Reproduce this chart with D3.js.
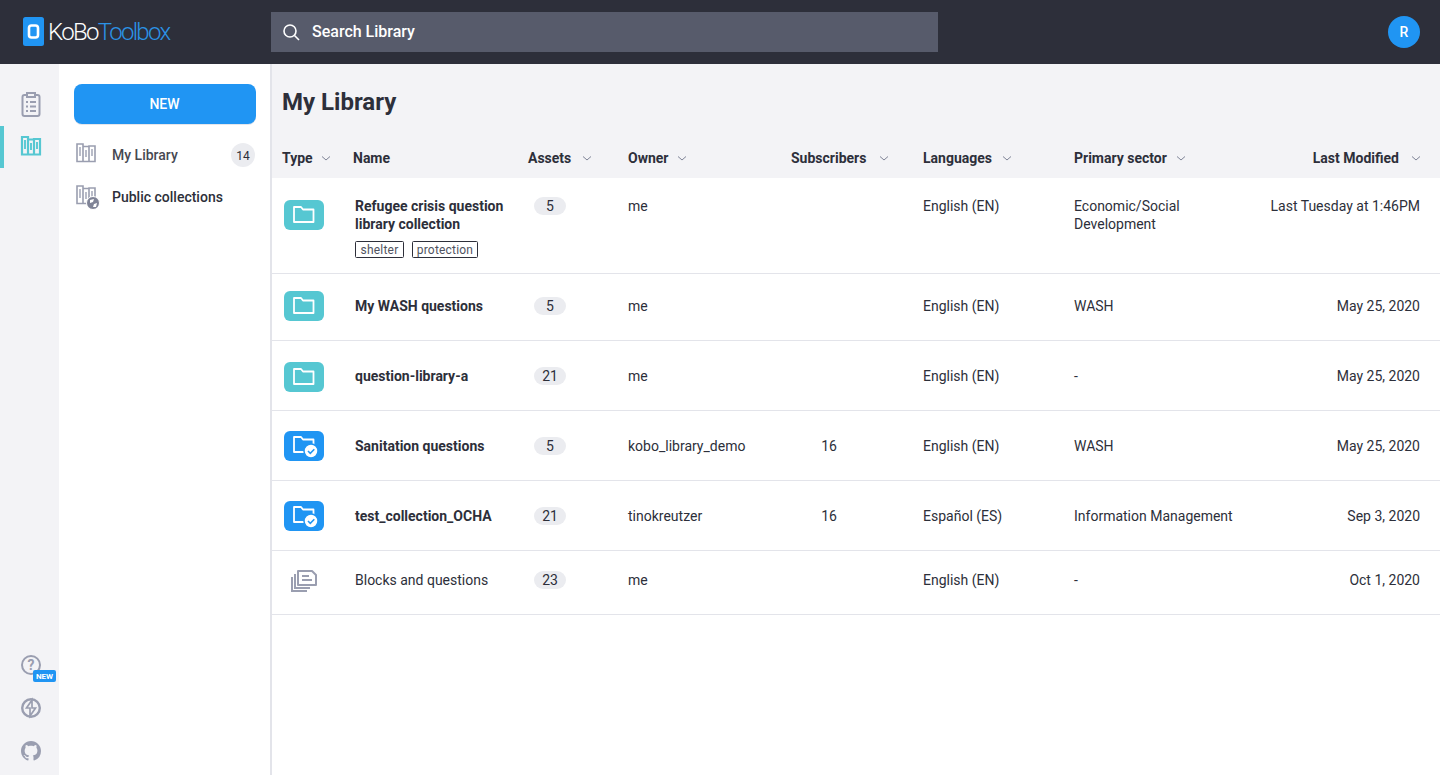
<!DOCTYPE html>
<html>
<head>
<meta charset="utf-8">
<title>My Library</title>
<script src="https://cdn.jsdelivr.net/npm/d3@7"></script>
<style>
  html, body { margin: 0; padding: 0; background: #fff; overflow: hidden; }
  svg { display: block; }
  text { font-family: Roboto, sans-serif; }
</style>
</head>
<body>
<div id="chart"></div>
<script>
// table content
const columns = ['Type', 'Name', 'Assets', 'Owner', 'Subscribers', 'Languages', 'Primary sector', 'Last Modified'];
const names = ['Refugee crisis question|library collection', 'My WASH questions', 'question-library-a', 'Sanitation questions', 'test_collection_OCHA', 'Blocks and questions'];
const types = ['collection', 'collection', 'collection', 'subscribed', 'subscribed', 'blocks'];
const assets = [5, 5, 21, 5, 21, 23];
const owners = ['me', 'me', 'me', 'kobo_library_demo', 'tinokreutzer', 'me'];
const subscribers = ['', '', '', 16, 16, ''];
const languages = ['English (EN)', 'English (EN)', 'English (EN)', 'English (EN)', 'Español (ES)', 'English (EN)'];
const sectors = ['Economic/Social|Development', 'WASH', '-', 'WASH', 'Information Management', '-'];
const modified = ['Last Tuesday at 1:46PM', 'May 25, 2020', 'May 25, 2020', 'May 25, 2020', 'Sep 3, 2020', 'Oct 1, 2020'];
const tags = ['shelter', 'protection'];
const navItems = ['My Library', 'Public collections'];
const libraryCount = 14;

const width = 1440;
const height = 775;
const dark = '#2d2f3a';
const blue = '#2095f3';
const teal = '#56c7d2';
const grey = '#9a9eb0';
const line = '#e3e4ea';

// layout scales
const rowIndex = d3.range(names.length);
const headerX = d3.scaleOrdinal().domain(columns).range([282, 353, 528, 628, 791, 923, 1074, 1399]);
const caretX = d3.scaleOrdinal().domain(columns).range([326, null, 587, 682, 884, 1007, 1181, 1416]);
const rowLine = d3.scaleOrdinal().domain(rowIndex).range([273.5, 340.5, 410.5, 480.5, 550.5, 614.5]);
const textY = d3.scaleOrdinal().domain(rowIndex).range([206, 306, 376, 446, 516, 580]);
const iconY = d3.scaleOrdinal().domain(rowIndex).range([215, 306, 377, 446, 516, 580]);

const svg = d3.select('#chart').append('svg').attr('width', width).attr('height', height);

// backgrounds
svg.append('rect').attr('width', width).attr('height', height).attr('fill', '#fff');
svg.append('rect').attr('x', 271).attr('y', 64).attr('width', width - 271).attr('height', 114).attr('fill', '#f3f3f6');
svg.append('rect').attr('x', 0).attr('y', 64).attr('width', 59).attr('height', height - 64).attr('fill', '#f3f3f6');
svg.append('rect').attr('x', 270).attr('y', 64).attr('width', 2).attr('height', height - 64).attr('fill', line);

// top bar
svg.append('rect').attr('width', width).attr('height', 64).attr('fill', dark);
svg.append('rect').attr('x', 271).attr('y', 12).attr('width', 667).attr('height', 40).attr('fill', '#575b6b');
const mag = svg.append('g').attr('transform', 'translate(291,32)').attr('fill', 'none').attr('stroke', '#fff').attr('stroke-width', 1.6);
mag.append('circle').attr('cx', -1).attr('cy', -1).attr('r', 6);
mag.append('path').attr('d', 'M3.5,3.5L8,8');
svg.append('text').attr('x', 312).attr('y', 37).attr('fill', '#fff').attr('font-size', 16).attr('font-weight', 500).text('Search Library');

// logo
svg.append('rect').attr('x', 23).attr('y', 17).attr('width', 21).attr('height', 29).attr('rx', 2.5).attr('fill', blue);
svg.append('rect').attr('x', 29).attr('y', 25.5).attr('width', 9).attr('height', 12).attr('rx', 2.5).attr('fill', 'none').attr('stroke', '#fff').attr('stroke-width', 2.6);
const logo = svg.append('text').attr('x', 48).attr('y', 40).attr('font-size', 24).attr('letter-spacing', -1.7).attr('font-weight', 300);
logo.append('tspan').attr('fill', '#fff').text('KoBo');
logo.append('tspan').attr('fill', '#2b93e6').text('Toolbox');

// avatar
svg.append('circle').attr('cx', 1404).attr('cy', 32).attr('r', 16).attr('fill', blue);
svg.append('text').attr('x', 1404).attr('y', 37).attr('text-anchor', 'middle').attr('fill', '#fff').attr('font-size', 14).attr('font-weight', 500).text('R');

// library glyph, shared by the rail and the side menu
function libraryIcon(g, color, w) {
  g.attr('fill', 'none').attr('stroke', color).attr('stroke-width', w);
  g.append('path').attr('d', 'M-9,-9H-3V8.5H-9ZM-3,-6.5H3V8.5H-3ZM3,-7H9V8.5H3Z');
  g.append('path').attr('d', 'M-6,-6V3M0,-3V4M6,-4V3').attr('stroke-width', w * 0.85);
}

// left rail
const clip = svg.append('g').attr('transform', 'translate(31,104)').attr('fill', 'none').attr('stroke', grey).attr('stroke-width', 2);
clip.append('rect').attr('x', -8.5).attr('y', -9).attr('width', 17).attr('height', 21).attr('rx', 2);
clip.append('rect').attr('x', -4).attr('y', -11).attr('width', 8).attr('height', 4).attr('fill', '#f3f3f6');
clip.append('path').attr('d', 'M-5,-2H-3M-1,-2H5M-5,2.5H-3M-1,2.5H5M-5,7H-3M-1,7H5').attr('stroke-width', 1.8);
svg.append('rect').attr('x', 0).attr('y', 126).attr('width', 4).attr('height', 42).attr('fill', teal);
libraryIcon(svg.append('g').attr('transform', 'translate(31,146)'), teal, 2.2);

const help = svg.append('g').attr('transform', 'translate(31,665)');
help.append('circle').attr('r', 9).attr('fill', 'none').attr('stroke', grey).attr('stroke-width', 2);
help.append('text').attr('y', 5).attr('text-anchor', 'middle').attr('font-size', 14).attr('font-weight', 700).attr('fill', grey).text('?');
svg.append('rect').attr('x', 33).attr('y', 670).attr('width', 23).attr('height', 12).attr('rx', 2).attr('fill', blue);
svg.append('text').attr('x', 44.5).attr('y', 679).attr('text-anchor', 'middle').attr('fill', '#fff').attr('font-size', 8).attr('font-weight', 700).text('NEW');

const support = svg.append('g').attr('transform', 'translate(31,708)').attr('fill', 'none').attr('stroke', grey);
support.append('circle').attr('r', 8.8).attr('stroke-width', 2.4);
support.append('path').attr('d', 'M1,-8L-4.5,0H-1V8L4.5,0H1Z').attr('stroke-width', 1.7);

svg.append('path')
  .attr('transform', 'translate(21,741) scale(1.25)')
  .attr('fill', grey)
  .attr('d', 'M8 0C3.58 0 0 3.58 0 8c0 3.54 2.29 6.53 5.47 7.59.4.07.55-.17.55-.38 0-.19-.01-.82-.01-1.49-2.01.37-2.53-.49-2.69-.94-.09-.23-.48-.94-.82-1.13-.28-.15-.68-.52-.01-.53.63-.01 1.08.58 1.23.82.72 1.21 1.87.87 2.33.66.07-.52.28-.87.51-1.07-1.78-.2-3.64-.89-3.64-3.95 0-.87.31-1.59.82-2.15-.08-.2-.36-1.02.08-2.12 0 0 .67-.21 2.2.82.64-.18 1.32-.27 2-.27.68 0 1.36.09 2 .27 1.53-1.04 2.2-.82 2.2-.82.44 1.1.16 1.92.08 2.12.51.56.82 1.27.82 2.15 0 3.07-1.87 3.75-3.65 3.95.29.25.54.73.54 1.48 0 1.07-.01 1.93-.01 2.2 0 .21.15.46.55.38A8.013 8.013 0 0016 8c0-4.42-3.58-8-8-8z');

// side menu
svg.append('rect').attr('x', 74).attr('y', 85).attr('width', 182).attr('height', 40).attr('rx', 8).attr('fill', '#e4e6ec');
svg.append('rect').attr('x', 74).attr('y', 84).attr('width', 182).attr('height', 40).attr('rx', 8).attr('fill', blue);
svg.append('text').attr('x', 164.5).attr('y', 109).attr('text-anchor', 'middle').attr('fill', '#fff').attr('font-size', 14).attr('font-weight', 500).text('NEW');

const navY = d3.scalePoint().domain(navItems).range([155, 197]);
svg.append('g').selectAll('text').data(navItems).join('text')
  .attr('x', 112).attr('y', d => navY(d) + 5)
  .attr('fill', dark).attr('font-size', 14).attr('font-weight', 500)
  .attr('opacity', (d, i) => (i === 0 ? 0.88 : 1))
  .text(d => d);
navItems.forEach(d => {
  libraryIcon(svg.append('g').attr('transform', `translate(86,${navY(d) - 2})`), grey, 1.6);
});
const globe = svg.append('g').attr('transform', 'translate(93,203)');
globe.append('circle').attr('r', 6.5).attr('fill', '#7f8396').attr('stroke', '#fff').attr('stroke-width', 1);
globe.append('path').attr('d', 'M-3,-3L1,-4L0,-1L-3,0ZM1,1L4,0L3,4L0,4Z').attr('fill', '#fff');
svg.append('circle').attr('cx', 243).attr('cy', 155).attr('r', 12).attr('fill', '#ebecf0');
svg.append('text').attr('x', 243).attr('y', 160).attr('text-anchor', 'middle').attr('fill', dark).attr('font-size', 12).text(libraryCount);

// title and table head
svg.append('text').attr('x', 282).attr('y', 110).attr('fill', dark).attr('font-size', 24).attr('font-weight', 700).text('My Library');
const head = svg.append('g').selectAll('g').data(columns).join('g');
head.append('text')
  .attr('x', d => headerX(d)).attr('y', 163)
  .attr('fill', dark).attr('font-size', 14).attr('font-weight', 700)
  .text(d => d);
head.filter(d => caretX(d) !== null).append('path')
  .attr('d', d => `M${caretX(d) - 4},156.5l4,3.5l4,-3.5`)
  .attr('fill', 'none').attr('stroke', '#7f8396').attr('stroke-width', 1);
// last header is right aligned against its caret
head.filter(d => d === 'Last Modified').select('text').attr('x', 1399).attr('text-anchor', 'end');

// rows
const rows = svg.append('g').selectAll('g').data(names).join('g');

rows.append('line')
  .attr('x1', 272).attr('x2', width)
  .attr('y1', (d, i) => rowLine(i)).attr('y2', (d, i) => rowLine(i))
  .attr('stroke', line).attr('stroke-width', 1);

function multiline(sel, get, attrs) {
  sel.each(function (d, i) {
    const value = String(get(i));
    value.split('|').forEach((part, k) => {
      const t = d3.select(this).append('text')
        .attr('y', textY(i) + 5 + k * 18)
        .attr('fill', dark).attr('font-size', 14).text(part);
      attrs(t, i);
    });
  });
}

multiline(rows, i => names[i], (t, i) => t.attr('x', 355).attr('font-weight', types[i] === 'blocks' ? 400 : 700));
multiline(rows, i => owners[i], t => t.attr('x', 628));
multiline(rows, i => subscribers[i], t => t.attr('x', 829).attr('text-anchor', 'middle'));
multiline(rows, i => languages[i], t => t.attr('x', 923));
multiline(rows, i => sectors[i], t => t.attr('x', 1074));
multiline(rows, i => modified[i], t => t.attr('x', 1420).attr('text-anchor', 'end'));

// asset count pills
rows.append('rect')
  .attr('x', 534).attr('y', (d, i) => textY(i) - 9)
  .attr('width', 32).attr('height', 18).attr('rx', 9).attr('fill', '#ebecf0');
rows.append('text')
  .attr('x', 550).attr('y', (d, i) => textY(i) + 5)
  .attr('text-anchor', 'middle').attr('fill', dark).attr('font-size', 14)
  .text((d, i) => assets[i]);

// type icons
rows.each(function (d, i) {
  const g = d3.select(this).append('g').attr('transform', `translate(304,${iconY(i)})`);
  if (types[i] === 'blocks') {
    g.attr('fill', 'none').attr('stroke', grey).attr('stroke-width', 2);
    g.append('path').attr('d', 'M-12,-3V11H3M-9,-6V8H6');
    g.append('path').attr('d', 'M-6,-9H8L12,-5V5H-6Z').attr('fill', '#fff').attr('stroke-linejoin', 'round');
    g.append('path').attr('d', 'M-2,-4H5M-2,0H8');
    return;
  }
  g.append('rect').attr('x', -20).attr('y', -15).attr('width', 40).attr('height', 30).attr('rx', 6)
    .attr('fill', types[i] === 'collection' ? teal : blue);
  const up = types[i] === 'subscribed' ? 1 : 0;
  g.append('path').attr('d', `M-10,${-8 - up}H-3L-1,${-5.5 - up}H9.5V${7 - up}H-10Z`)
    .attr('fill', 'none').attr('stroke', '#fff').attr('stroke-width', 1.8).attr('stroke-linejoin', 'round');
  if (up) {
    g.append('circle').attr('cx', 7).attr('cy', 5).attr('r', 7).attr('fill', '#fff').attr('stroke', blue).attr('stroke-width', 1.5);
    g.append('path').attr('d', 'M4,5l2.3,2.3l4,-4').attr('fill', 'none').attr('stroke', blue).attr('stroke-width', 1.6);
  }
});

// tags under the first row
const tagX = d3.scaleOrdinal().domain(tags).range([355.5, 412.5]);
const tagW = d3.scaleOrdinal().domain(tags).range([48, 65]);
const tagG = svg.append('g').selectAll('g').data(tags).join('g');
tagG.append('rect')
  .attr('x', d => tagX(d)).attr('y', 241.5).attr('width', d => tagW(d)).attr('height', 16).attr('rx', 1)
  .attr('fill', '#fff').attr('stroke', dark);
tagG.append('text')
  .attr('x', d => tagX(d) + tagW(d) / 2).attr('y', 254)
  .attr('text-anchor', 'middle').attr('fill', '#50535f').attr('font-size', 12).attr('letter-spacing', 0.2)
  .text(d => d);
</script>
</body>
</html>
